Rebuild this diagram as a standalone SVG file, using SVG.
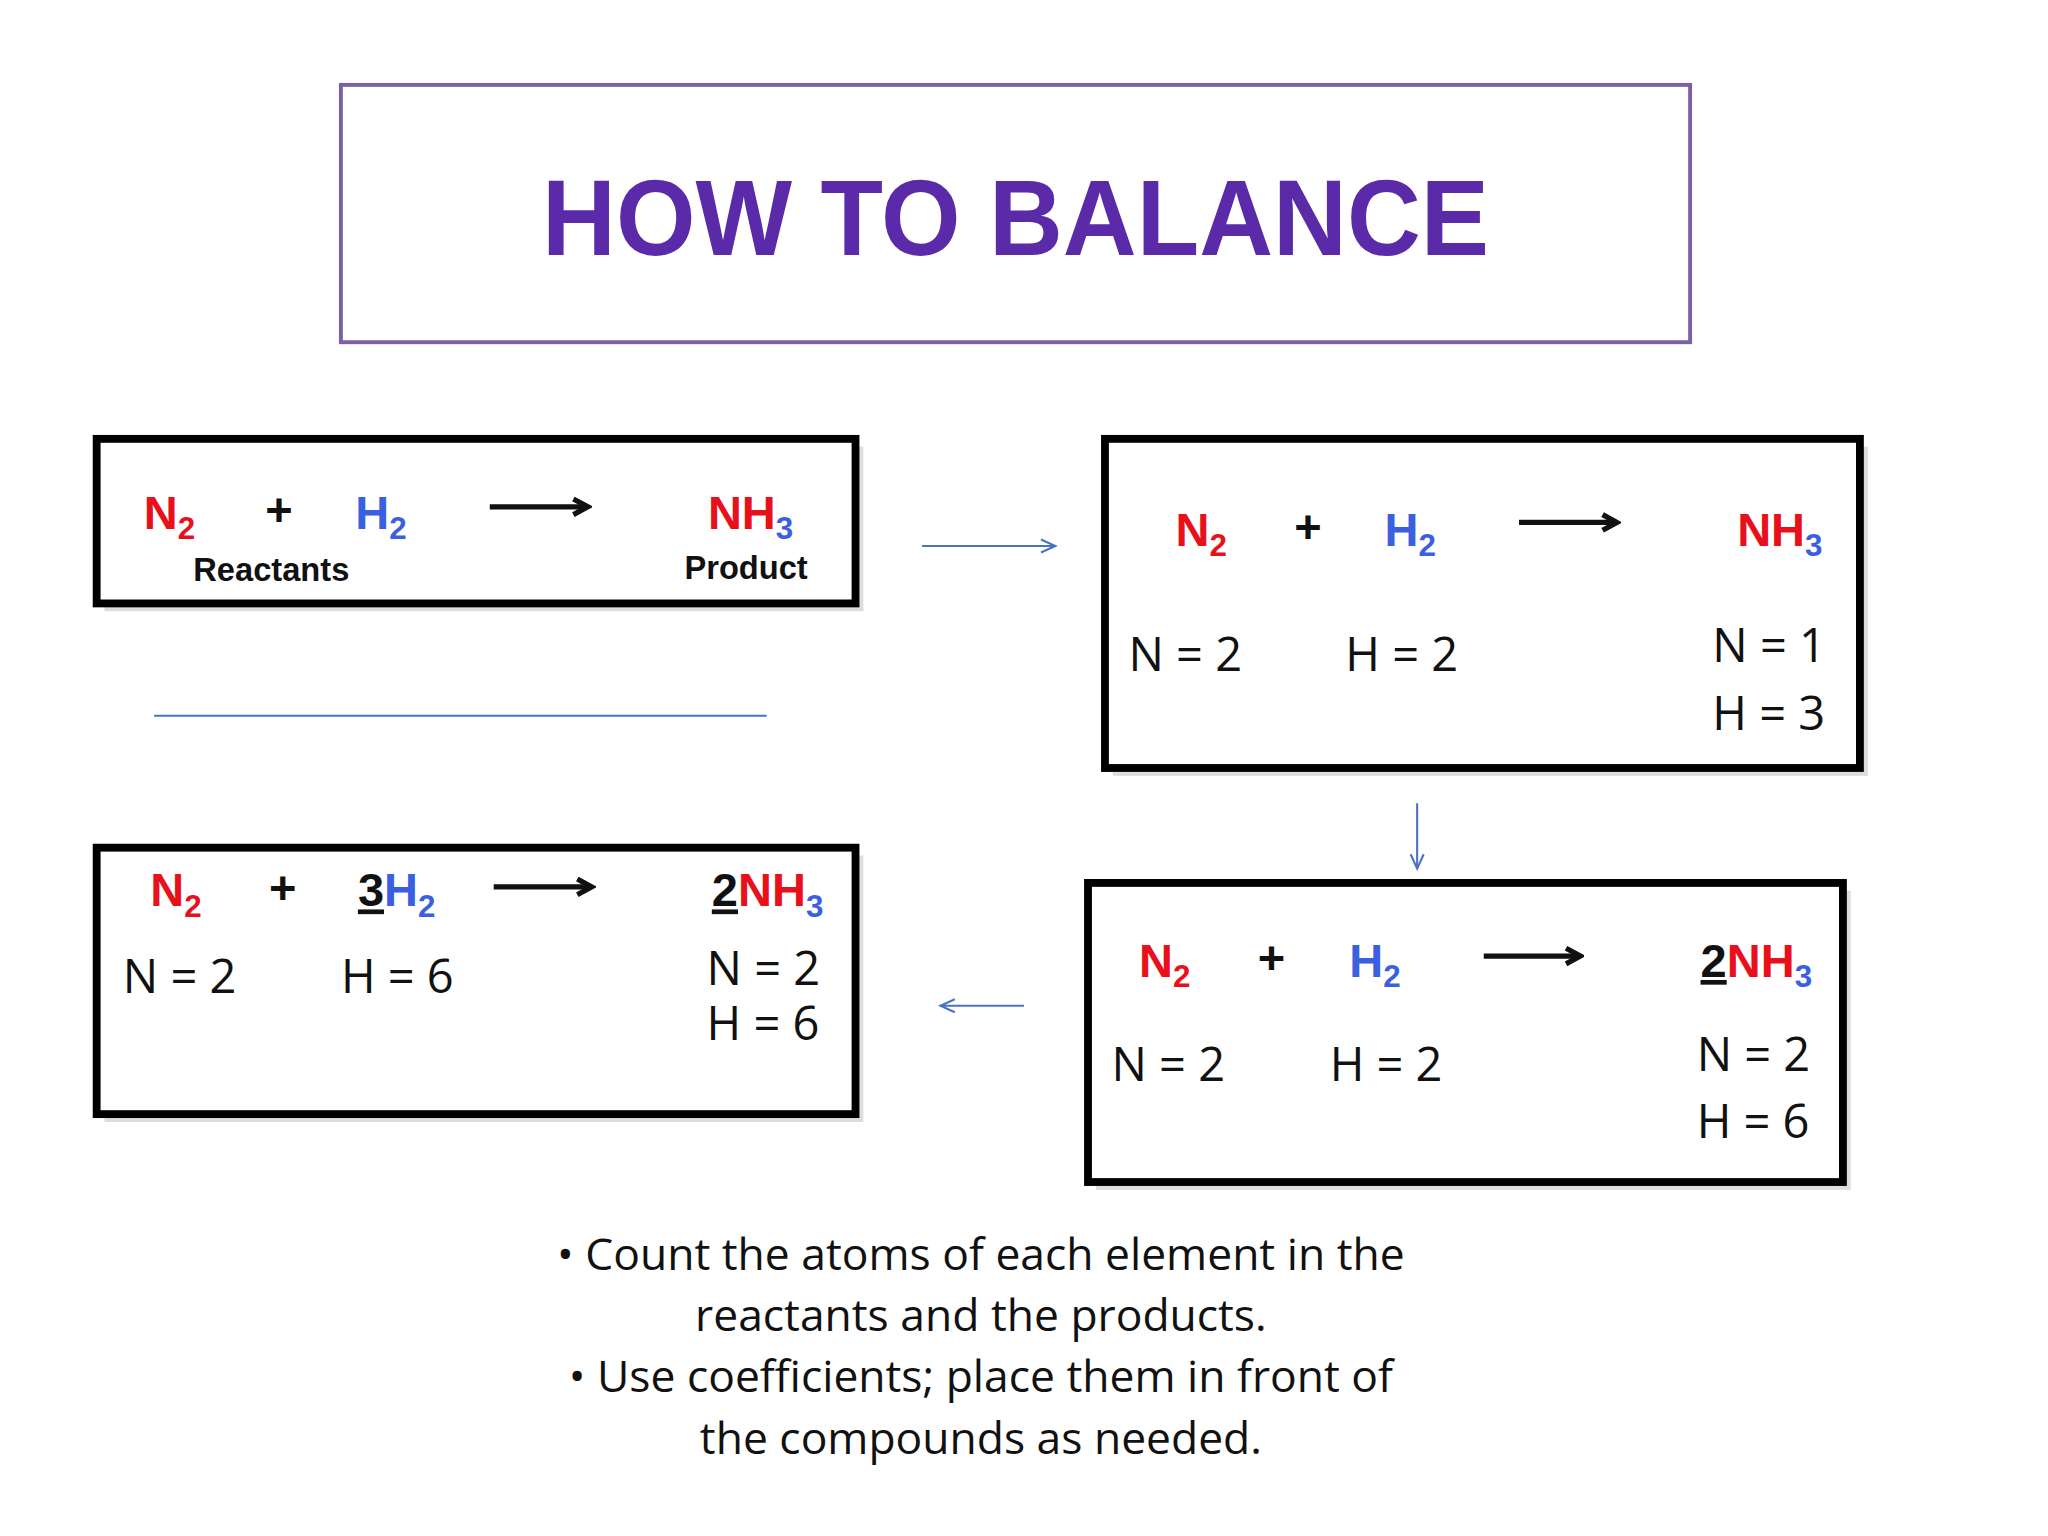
<svg xmlns="http://www.w3.org/2000/svg" width="2048" height="1536" viewBox="0 0 2048 1536">
<style>
.box{fill:#fff;stroke:#000;stroke-width:6}
.sh{fill:#bbb;opacity:0.5}
.f{font-family:"Liberation Sans",Arial,sans-serif;font-weight:bold;font-size:36px}
.r{fill:#e8101a}.b{fill:#3a5fe0}.k{fill:#111}
.c{font-family:"Open Sans","Liberation Sans",sans-serif;font-size:36px;fill:#111}
.lbl{font-family:"Liberation Sans",Arial,sans-serif;font-weight:bold;font-size:25px;fill:#111}
.con{stroke:#4a72c0;stroke-width:1.6;fill:none}
.ar{stroke:#111;stroke-width:4;fill:none}
</style>
<defs>
<marker id="oa" markerWidth="14" markerHeight="12" refX="12" refY="6" orient="auto" markerUnits="userSpaceOnUse"><path d="M1,1 L12,6 L1,11" fill="none" stroke="#4a72c0" stroke-width="1.6"/></marker>
<marker id="ka" markerWidth="16" markerHeight="16" refX="13" refY="8" orient="auto" markerUnits="userSpaceOnUse"><path d="M2,2 L13,8 L2,14" fill="none" stroke="#111" stroke-width="4"/></marker>
</defs>
<rect width="2048" height="1536" fill="#fff"/>
<g transform="scale(1.30612)">
<g id="title">
<rect x="261" y="65" width="1033" height="197" fill="#fff" stroke="#7d5fa6" stroke-width="3"/>
<text x="415" y="195" textLength="725" lengthAdjust="spacingAndGlyphs" font-family="Liberation Sans,Arial,sans-serif" font-weight="bold" font-size="82" fill="#5b2aa8">HOW TO BALANCE</text>
</g>
<g id="box1">
<rect class="sh" x="80" y="342" width="581" height="126"/>
<rect class="box" x="74" y="336" width="581" height="126"/>
<text class="f r" x="110" y="405">N<tspan font-size="24" dy="8">2</tspan></text>
<text class="f k" x="203" y="403">+</text>
<text class="f b" x="272" y="405">H<tspan font-size="24" dy="8">2</tspan></text>
<line class="ar" x1="375" y1="388" x2="450" y2="388" marker-end="url(#ka)"/>
<text class="f r" x="542" y="405">NH<tspan font-size="24" dy="8" class="b">3</tspan></text>
<text class="lbl" x="148" y="445">Reactants</text>
<text class="lbl" x="524" y="443">Product</text>
</g>
<g id="box2">
<rect class="sh" x="852" y="342" width="578" height="252"/>
<rect class="box" x="846" y="336" width="578" height="252"/>
<text class="f r" x="900" y="418">N<tspan font-size="24" dy="8">2</tspan></text>
<text class="f k" x="991" y="416">+</text>
<text class="f b" x="1060" y="418">H<tspan font-size="24" dy="8">2</tspan></text>
<line class="ar" x1="1163" y1="400" x2="1238" y2="400" marker-end="url(#ka)"/>
<text class="f r" x="1330" y="418">NH<tspan font-size="24" dy="8" class="b">3</tspan></text>
<text class="c" x="864" y="514">N = 2</text>
<text class="c" x="1030" y="514">H = 2</text>
<text class="c" x="1311" y="507">N = 1</text>
<text class="c" x="1311" y="559">H = 3</text>
</g>
<g id="box3">
<rect class="sh" x="839" y="682" width="578" height="229"/>
<rect class="box" x="833" y="676" width="578" height="229"/>
<text class="f r" x="872" y="748">N<tspan font-size="24" dy="8">2</tspan></text>
<text class="f k" x="963" y="746">+</text>
<text class="f b" x="1033" y="748">H<tspan font-size="24" dy="8">2</tspan></text>
<line class="ar" x1="1136" y1="732" x2="1210" y2="732" marker-end="url(#ka)"/>
<text class="f r" x="1302" y="748"><tspan class="k" text-decoration="underline">2</tspan>NH<tspan font-size="24" dy="8" class="b">3</tspan></text>
<text class="c" x="851" y="828">N = 2</text>
<text class="c" x="1018" y="828">H = 2</text>
<text class="c" x="1299" y="820">N = 2</text>
<text class="c" x="1299" y="871">H = 6</text>
</g>
<g id="box4">
<rect class="sh" x="80" y="655" width="581" height="204"/>
<rect class="box" x="74" y="649" width="581" height="204"/>
<text class="f r" x="115" y="694">N<tspan font-size="24" dy="8">2</tspan></text>
<text class="f k" x="206" y="692">+</text>
<text class="f b" x="274" y="694"><tspan class="k" text-decoration="underline">3</tspan>H<tspan font-size="24" dy="8">2</tspan></text>
<line class="ar" x1="378" y1="679" x2="453" y2="679" marker-end="url(#ka)"/>
<text class="f r" x="545" y="694"><tspan class="k" text-decoration="underline">2</tspan>NH<tspan font-size="24" dy="8" class="b">3</tspan></text>
<text class="c" x="94" y="760">N = 2</text>
<text class="c" x="261" y="760">H = 6</text>
<text class="c" x="541" y="754">N = 2</text>
<text class="c" x="541" y="796">H = 6</text>
</g>
<g id="connectors">
<line class="con" x1="706" y1="418" x2="808" y2="418" marker-end="url(#oa)"/>
<line class="con" x1="118" y1="548" x2="587" y2="548"/>
<line class="con" x1="1085" y1="615" x2="1085" y2="665" marker-end="url(#oa)"/>
<line class="con" x1="784" y1="770" x2="720" y2="770" marker-end="url(#oa)"/>
</g>
<g id="notes" font-family="'Open Sans','Liberation Sans',sans-serif" font-size="34" fill="#111" text-anchor="middle">
<text x="751" y="972">• Count the atoms of each element in the</text>
<text x="751" y="1019">reactants and the products.</text>
<text x="751" y="1066">• Use coefficients; place them in front of</text>
<text x="751" y="1113">the compounds as needed.</text>
</g>
</g>
</svg>
